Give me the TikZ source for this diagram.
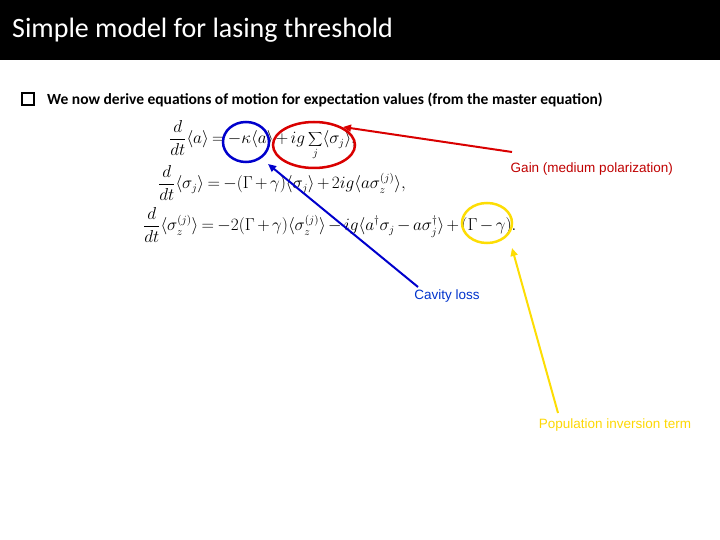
\documentclass[tikz,border=0pt]{standalone}
\usepackage{fontspec}
\setmainfont{Carlito}
\newfontfamily\lab{Liberation Sans}
\usetikzlibrary{arrows.meta}
\medmuskip=2.5mu plus 1mu
\thickmuskip=3.5mu plus 1mu
\begin{document}
\begin{tikzpicture}[x=1pt,y=-1pt,
  ann/.style={line width=2pt,-{Triangle[length=8pt,width=7pt]}},
  eq/.style={anchor=west,inner sep=0pt,font=\fontsize{16}{18}\selectfont},
  lbl/.style={font=\lab\fontsize{13.5}{15}\selectfont}]
\useasboundingbox (0,0) rectangle (720,540);
\fill[black] (0,0) rectangle (720,60);
\node[anchor=west,inner sep=0pt,text=white,font=\fontsize{28}{30}\selectfont] (title) at (12,30) {Simple model for lasing threshold};
\draw[line width=1.2pt] (22,93) rectangle (34,105);
\node[anchor=west,inner sep=0pt,font=\fontsize{15.5}{17}\selectfont\bfseries] (bul) at (47,100) {We now derive equations of motion for expectation values (from the master equation)};
\node[eq] (eq1) at (169,140) {$\displaystyle\frac{d}{dt}\langle a\rangle=-\kappa\langle a\rangle+ig\sum_j\langle\sigma_j\rangle,$};
\node[eq] (eq2) at (158,183) {$\displaystyle\frac{d}{dt}\langle\sigma_j\rangle=-(\Gamma+\gamma)\langle\sigma_j\rangle+2ig\langle a\sigma_z^{(j)}\rangle,$};
\node[eq] (eq3) at (143,225) {$\displaystyle\frac{d}{dt}\langle\sigma_z^{(j)}\rangle=-2(\Gamma+\gamma)\langle\sigma_z^{(j)}\rangle-ig\langle a^\dagger\sigma_j-a\sigma_j^\dagger\rangle+(\Gamma-\gamma).$};
\draw[blue!80!black,line width=2.5pt] (246,142) ellipse (23 and 20);
\draw[red!85!black,line width=2.5pt] (314,145) ellipse (41 and 23);
\draw[yellow!80!orange,line width=2.5pt] (487,223) ellipse (25 and 20);
\coordinate (rt) at (343,127);
\coordinate (bt) at (268,164);
\coordinate (yt) at (512,248);
\node[anchor=east,inner sep=0pt,text=red!75!black,lbl] (gain) at (673,169) {Gain (medium polarization)};
\node[inner sep=0pt,text=blue!60!teal,lbl] (cav) at (447,296) {Cavity loss};
\node[inner sep=0pt,text=yellow!75!orange,lbl] (pop) at (615,425) {Population inversion term};
\draw[ann,red!85!black] (512,152) -- (rt);
\draw[ann,blue!80!black] (418,287) -- (bt);
\draw[ann,yellow!80!orange] (558,413) -- (yt);
\end{tikzpicture}
\end{document}
